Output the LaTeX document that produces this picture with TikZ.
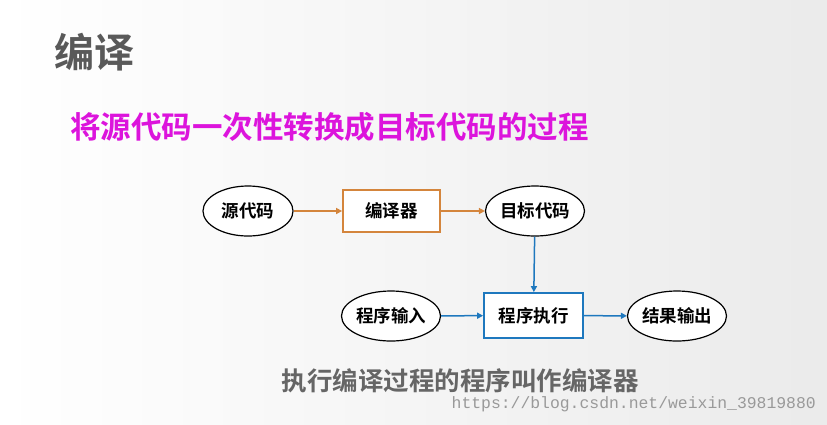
\documentclass[tikz,border=0pt]{standalone}
\usepackage{fontspec}
\newfontfamily\cjk{Noto Sans CJK SC}
\newfontfamily\cjkb{Noto Sans CJK SC Bold}
\setmonofont{Liberation Mono}
\usetikzlibrary{shapes.geometric,arrows.meta}
\definecolor{org}{RGB}{212,133,60}
\definecolor{blu}{RGB}{30,120,190}
\definecolor{mag}{RGB}{220,20,220}
\begin{document}
\begin{tikzpicture}[x=1pt,y=-1pt,
  ell/.style={ellipse,draw=black,line width=1.2pt,fill=white,minimum width=90,minimum height=50,inner sep=0pt,font=\cjkb\fontsize{17.5}{17.5}\selectfont},
  boxo/.style={rectangle,draw=org,line width=1.8pt,fill=white,minimum width=97,minimum height=42,font=\cjkb\fontsize{17.5}{17.5}\selectfont},
  boxb/.style={rectangle,draw=blu,line width=1.8pt,fill=white,minimum width=99,minimum height=45,font=\cjkb\fontsize{17.5}{17.5}\selectfont},
  ao/.style={draw=org,line width=1.5pt,-{Triangle[length=6pt,width=6pt]}},
  ab/.style={draw=blu,line width=1.5pt,-{Triangle[length=6pt,width=6pt]}}]
\shade[left color=white,right color=black!8] (0,0) rectangle (827,424);
\useasboundingbox (0,0) rectangle (827,424);
\node[anchor=west,text=black!65,font=\cjkb\fontsize{40}{40}\selectfont,inner sep=0pt] (t) at (54,52) {编译};
\node[anchor=west,text=mag,font=\cjkb\fontsize{30.5}{30.5}\selectfont,inner sep=0pt] (s) at (70,127) {将源代码一次性转换成目标代码的过程};
\node[ell] (src) at (248,211) {源代码};
\node[boxo] (cmp) at (391.5,211) {编译器};
\node[ell] (tgt) at (535,211) {目标代码};
\node[ell] (in) at (391,316) {程序输入};
\node[boxb] (run) at (533.5,315.5) {程序执行};
\node[ell] (out) at (677,316) {结果输出};
\draw[ao] (src) -- (cmp);
\draw[ao] (cmp) -- (tgt);
\draw[ab] (tgt) -- (run);
\draw[ab] (in) -- (run);
\draw[ab] (run) -- (out);
\node[text=black!60,font=\cjkb\fontsize{25.5}{25.5}\selectfont] (c) at (460,381) {执行编译过程的程序叫作编译器};
\node[anchor=east,text=black!40,font=\ttfamily\fontsize{16.4}{16.4}\selectfont,inner sep=0pt] (w) at (816,404) {https://blog.csdn.net/weixin\_39819880};
\end{tikzpicture}
\end{document}
